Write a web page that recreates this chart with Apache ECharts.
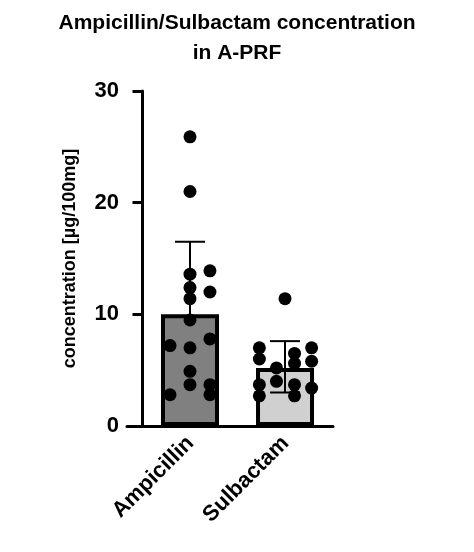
<!DOCTYPE html><html><head><meta charset="utf-8"><script src="https://cdn.jsdelivr.net/npm/echarts@6/dist/echarts.min.js"></script></head><body style="margin:0"><div id="c" style="width:474px;height:552px"></div><script>
const categories=['Ampicillin','Sulbactam'];
const means=[10.0,5.2];
const errLow=[10.0,3.0];
const errHigh=[16.5,7.6];
const ampValues=[25.9,21.0,13.6,12.4,11.4,9.5,7.2,7.0,7.8,13.9,12.0,4.9,3.7,2.8,3.7,2.8];
const ampOffsets=[0,0,0,0,0,0,-0.21,0,0.21,0.21,0.21,0,0,-0.21,0.21,0.21];
const sulValues=[11.4,7.0,6.0,3.7,2.7,5.2,4.0,6.5,5.6,3.7,2.7,7.0,5.8,3.4];
const sulOffsets=[0,-0.27,-0.27,-0.27,-0.27,-0.09,-0.09,0.1,0.1,0.1,0.1,0.28,0.28,0.28];
const yTicks=[0,10,20,30];
const F='Liberation Sans, Arial, sans-serif';
const pts=[...ampValues.map((v,i)=>[0.5+ampOffsets[i],v]),...sulValues.map((v,i)=>[1.5+sulOffsets[i],v])];
const chart=echarts.init(document.getElementById('c'));
chart.setOption({
 title:{text:'Ampicillin/Sulbactam concentration\nin A-PRF',left:'center',top:3,textStyle:{fontFamily:F,fontWeight:'bold',fontSize:21,lineHeight:30,color:'#000'}},
 grid:[{left:127,right:141,top:91,bottom:126},{left:143,right:141,top:91,bottom:126}],
 xAxis:[{type:'value',gridIndex:0,min:-0.163,max:2.005,axisLine:{onZero:false,lineStyle:{color:'#000',width:3}},axisTick:{show:false},axisLabel:{show:false},splitLine:{show:false}},
  {type:'category',gridIndex:1,data:categories,axisLine:{show:false},axisTick:{length:12,lineStyle:{color:'#000',width:3}},axisLabel:{rotate:45,fontFamily:F,fontWeight:'bold',fontSize:22,color:'#000',margin:14}}],
 yAxis:[{type:'value',gridIndex:0,min:0,max:30,interval:10,name:'concentration [µg/100mg]',nameLocation:'middle',nameGap:48,nameTextStyle:{fontFamily:F,fontWeight:'bold',fontSize:18,color:'#000'},splitLine:{show:false},axisLine:{show:true,lineStyle:{color:'#000',width:3}},axisTick:{show:true,length:10,lineStyle:{color:'#000',width:3}},axisLabel:{fontFamily:F,fontWeight:'bold',fontSize:22,color:'#000',formatter:v=>yTicks.includes(v)?String(v):''}},
  {type:'value',gridIndex:1,min:0,max:30,show:false}],
 series:[
  {type:'bar',data:means.map((v,i)=>({value:[i+0.5,v],itemStyle:{color:i?'#d0d0d0':'#808080'}})),barWidth:58,itemStyle:{borderColor:'#000',borderWidth:4},z:1},
  {type:'custom',z:3,data:categories.map((c,i)=>[i+0.5,errLow[i],errHigh[i],i]),renderItem:(p,api)=>{const lo=api.coord([api.value(0),api.value(1)]),hi=api.coord([api.value(0),api.value(2)]);const x=lo[0],w=15;return {type:'group',children:[{type:'line',shape:{x1:x,y1:lo[1],x2:x,y2:hi[1]},style:{stroke:'#000',lineWidth:2}},{type:'line',shape:{x1:x-w,y1:hi[1],x2:x+w,y2:hi[1]},style:{stroke:'#000',lineWidth:2}},{type:'line',shape:{x1:x-w,y1:lo[1],x2:x+w,y2:lo[1]},style:{stroke:'#000',lineWidth:2,opacity:api.value(3)?1:0}}]};}},
  {type:'scatter',data:pts,symbolSize:13,itemStyle:{color:'#000',opacity:1},z:4}
 ]
});
</script></body></html>
